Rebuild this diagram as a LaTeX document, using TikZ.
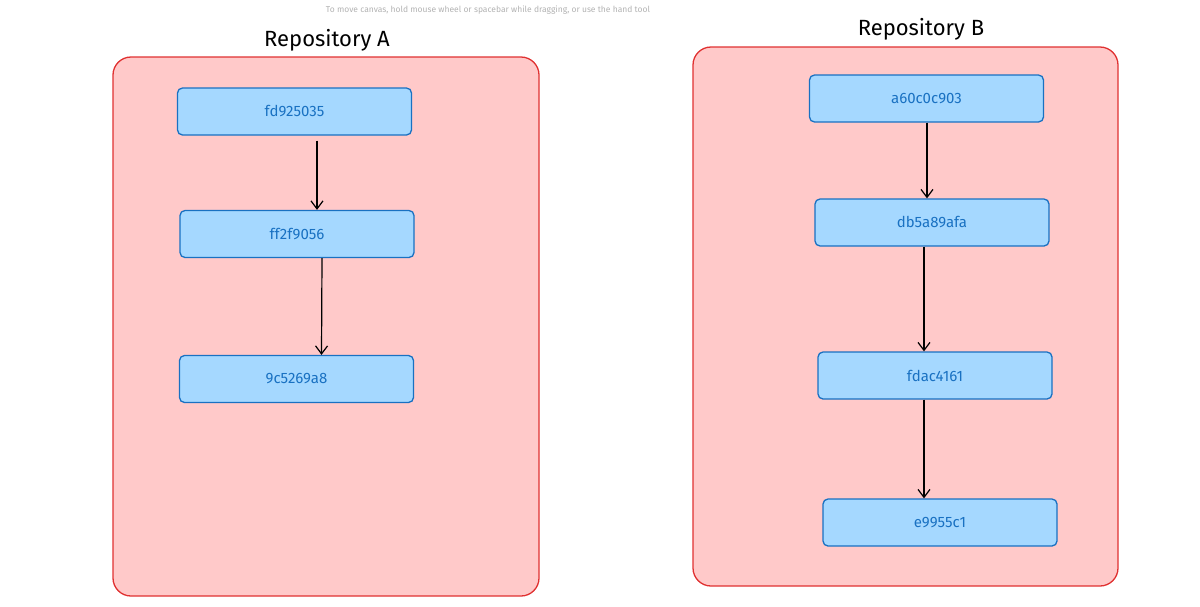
\documentclass[tikz,border=0pt]{standalone}
\usepackage{fontspec}
\setmainfont{Fira Sans}
\usetikzlibrary{arrows.meta,calc}
\definecolor{repofill}{HTML}{FFC9C9}
\definecolor{repoline}{HTML}{E03131}
\definecolor{cfill}{HTML}{A5D8FF}
\definecolor{cline}{HTML}{1971C2}
\begin{document}
\begin{tikzpicture}[x=1pt,y=-1pt,
  repo/.style={draw=repoline,fill=repofill,line width=1.3pt,rounded corners=18pt},
  commit/.style={draw=cline,fill=cfill,line width=1.3pt,rounded corners=5pt,text=cline,
    minimum width=234pt,minimum height=47pt,font=\fontsize{15}{17}\selectfont},
  title/.style={font=\fontsize{22}{24}\selectfont},
  link/.style={draw=black,line width=1.2pt,-{Straight Barb[length=8pt,width=12pt]}}]
\useasboundingbox (0,0) rectangle (1200,606);
\node[text=gray!60,font=\fontsize{8.5}{10}\selectfont] (hint) at (488,10) {To move canvas, hold mouse wheel or spacebar while dragging, or use the hand tool};
\draw[repo] (113,57) rectangle (539,596);
\draw[repo] (693,47) rectangle (1118,586);
\node[title] (ta) at (327,40) {Repository A};
\node[title] (tb) at (921,29) {Repository B};
\node[commit] (a1) at (294.5,111.5) {fd925035};
\node[commit] (a2) at (297,234) {ff2f9056};
\node[commit] (a3) at (296.5,379) {9c5269a8};
\node[commit] (b1) at (926.5,98.5) {a60c0c903};
\node[commit] (b2) at (932,222.5) {db5a89afa};
\node[commit] (b3) at (935,375.5) {fdac4161};
\node[commit] (b4) at (940,522.5) {e9955c1};
\draw[link] ($(a1.south)+(22.5,5)$) -- ($(a2.north)+(20,0)$);
\draw[link] ($(a2.south)+(25,0)$) -- ($(a3.north)+(25,0)$);
\draw[link] ($(b1.south)+(0.5,0)$) -- ($(b2.north)+(-5,0)$);
\draw[link] ($(b2.south)+(-8,0)$) -- ($(b3.north)+(-11,0)$);
\draw[link] ($(b3.south)+(-11,0)$) -- ($(b4.north)+(-16,0)$);
\end{tikzpicture}
\end{document}
